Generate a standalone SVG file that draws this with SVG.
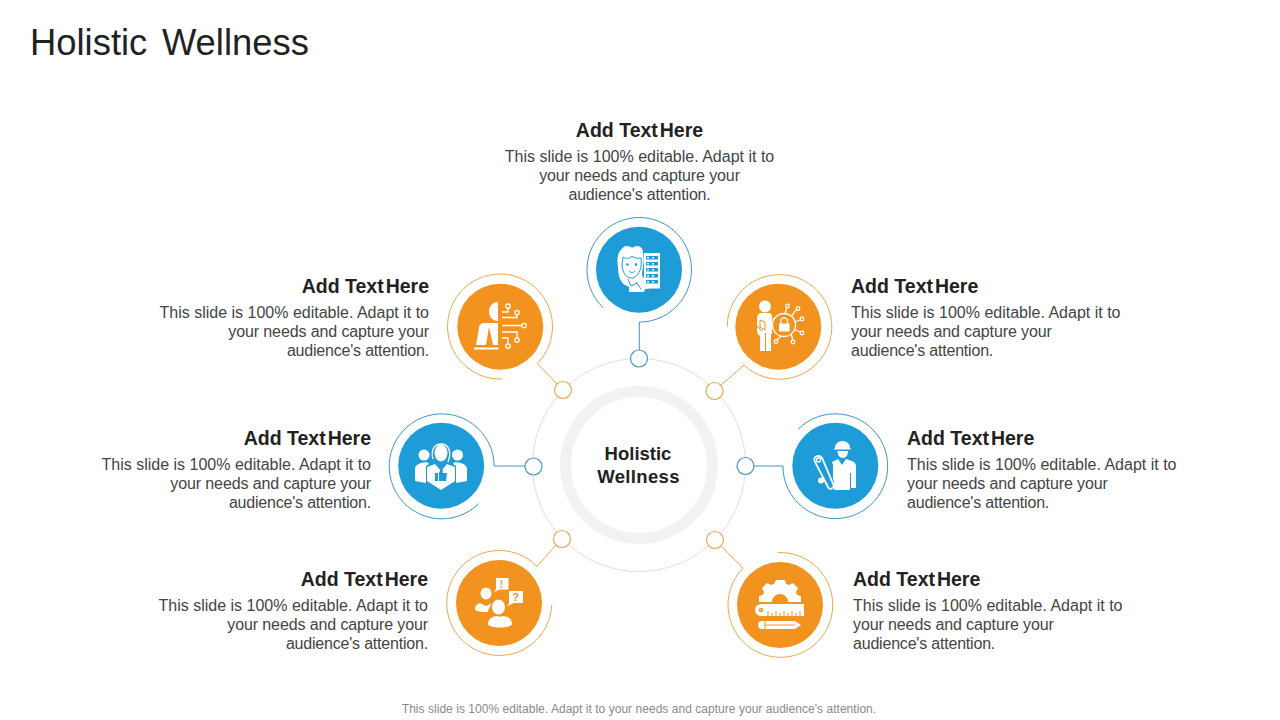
<svg xmlns="http://www.w3.org/2000/svg" width="1280" height="720" viewBox="0 0 1280 720">
<style>
text{font-family:"Liberation Sans",Arial,sans-serif}
.h{font-size:19.5px;font-weight:700;fill:#222}
.b{font-size:16px;fill:#444}
.l2{letter-spacing:-.11px}
.l3{letter-spacing:-.2px}
.m{text-anchor:middle}
.e{text-anchor:end}
.bl{fill:#1e9cd7}.or{fill:#f3931f}
.lb{fill:none;stroke:#3d97c8;stroke-width:1}
.lo{fill:none;stroke:#e9a94f;stroke-width:1}
.db{fill:#fff;stroke:#3d97c8;stroke-width:1.200}
.do{fill:#fff;stroke:#e9a94f;stroke-width:1.200}
.w{fill:#fff}
.ws{fill:none;stroke:#fff;stroke-width:1.300}
.cb{fill:#1e9cd7}.co{fill:#f3931f}
.sb{fill:none;stroke:#1e9cd7;stroke-width:1}
.so{fill:none;stroke:#f3931f;stroke-width:1}
</style>
<rect width="1280" height="720" fill="#fff"/>
<text x="30" y="55" font-size="36.400" fill="#222" word-spacing="4.500">Holistic Wellness</text>
<g id="hub">
<circle cx="639" cy="465" r="106.500" fill="none" stroke="#e0e0e0" stroke-width="1"/>
<circle cx="639" cy="465" r="73.500" fill="none" stroke="#f2f2f2" stroke-width="11"/>
<text x="638" y="460" font-size="18.500" font-weight="700" fill="#222" class="m">Holistic</text>
<text x="638.500" y="483" font-size="18.500" font-weight="700" fill="#222" class="m" letter-spacing=".35">Wellness</text>
</g>
<g id="connectors">
<path class="lb" d="M603.200 307.700A52.300 52.300 0 1 1 639.300 322.100V350"/>
<path class="lo" d="M727.200 326.800A52.300 52.300 0 1 1 743.900 365.200L720.600 385.400"/>
<path class="lo" d="M502 379A52.500 52.500 0 1 1 537.300 363.500L557 384"/>
<path class="lb" d="M478.600 503.700A52.500 52.500 0 1 1 494.200 466H525"/>
<path class="lb" d="M798.100 429.300A52.400 52.400 0 1 1 782.900 466H754"/>
<path class="lo" d="M778 552.600A52.400 52.400 0 1 1 743.200 568L721 546"/>
<path class="lo" d="M551.700 605A52.500 52.500 0 1 1 537 566.500L556 545"/>
<circle class="db" cx="639" cy="358.500" r="8.500"/>
<circle class="do" cx="714.500" cy="391" r="8.500"/>
<circle class="do" cx="563" cy="390" r="8.500"/>
<circle class="db" cx="533.500" cy="466.500" r="8.500"/>
<circle class="db" cx="745.500" cy="466" r="8.500"/>
<circle class="do" cx="715" cy="540" r="8.500"/>
<circle class="do" cx="562" cy="539" r="8.500"/>
</g>
<g id="node-top">
<circle class="bl" cx="639" cy="269.700" r="43"/>
<path class="w" d="M627 246c3 0 4 1 5 2 1-1 3-2 5-2 4 0 6 3 6 7 1 4 1 9 0 13l-1 9 4 8 5 2v3l-6 1-1 3h-15v-5l-4-2c-5-3-7-10-7-18-1-6-1-12 2-16 2-3 4-5 7-5z"/>
<path class="sb" d="M623 257c3 2 6 2 9-1 2 2 6 3 9 2 1 9-1 17-8 20-7 1-11-6-11-14zM628 279l3 7 6-3M636 282l5 7"/>
<circle class="cb" cx="627.500" cy="264.500" r="1.300"/><circle class="cb" cx="636" cy="264.500" r="1.300"/>
<path class="sb" d="M629 271c2 2 4 2 6 0"/>
<rect class="w" x="644" y="253" width="16" height="35.500"/>
<g class="cb"><rect x="646" y="256" width="12" height="3.500"/><rect x="646" y="262" width="12" height="3.500"/><rect x="646" y="268" width="12" height="3.500"/><rect x="646" y="274" width="12" height="3.500"/><rect x="646" y="280" width="12" height="3.500"/></g>
<path class="w" d="M647 257h2v1.500h-2zM652 257h2v1.500h-2zM647 263h2v1.500h-2zM652 263h2v1.500h-2zM647 269h2v1.500h-2zM652 269h2v1.500h-2zM647 275h2v1.500h-2zM652 275h2v1.500h-2zM647 281h2v1.500h-2zM652 281h2v1.500h-2z"/>
<text x="639.500" y="137" class="h m">Add Text <tspan dx="-3.500">Here</tspan></text>
<text x="639.500" y="162" class="b m">This slide is 100% editable. Adapt it to</text>
<text x="639.500" y="181" class="b m l2">your needs and capture your</text>
<text x="639.500" y="200" class="b m l3">audience's attention.</text>
</g>
<g id="node-upper-right">
<circle class="or" cx="778.300" cy="326.700" r="43"/>
<circle class="w" cx="765" cy="306.500" r="6"/>
<path class="w" d="M760 313h10c2 1 2 3 2 5v16h-1v17h-5v-18h-1v18h-5v-15c-2-1-3-3-3-5v-13c0-2 1-4 3-5z"/>
<path class="so" d="M760 320l5 2v8l-5-3zM757 326l5 5"/>
<circle class="ws" cx="784" cy="325" r="11.500"/>
<rect class="w" x="779" y="323.500" width="10.500" height="8"/>
<path class="ws" d="M781 323.500v-2.500a3.200 3.200 0 0 1 6.400 0v2.500M785 313.500l2-6M792 316l3-5 2-1M795 322l5-2M795 330l5 2M791 334l2 6M781 336l-4 4M774 320l-1-2"/>
<g class="ws"><circle cx="787.500" cy="306" r="1.800"/><circle cx="798" cy="308.500" r="1.800"/><circle cx="802" cy="319" r="1.800"/><circle cx="802" cy="333" r="1.800"/><circle cx="793" cy="342" r="1.800"/><circle cx="776" cy="341.500" r="1.800"/></g>
<text x="851" y="293" class="h">Add Text <tspan dx="-3.500">Here</tspan></text>
<text x="851" y="318" class="b">This slide is 100% editable. Adapt it to</text>
<text x="851" y="337" class="b l2">your needs and capture your</text>
<text x="851" y="356" class="b l3">audience's attention.</text>
</g>
<g id="node-upper-left">
<circle class="or" cx="500.300" cy="326.700" r="43"/>
<path class="w" d="M498 302v19c-5 0-9-4-9-9.500S493 302 498 302zM484 323h14v22h-5l-4-18-3 18h-10l3-17c0-3 2-5 5-5z"/>
<rect class="w" x="474" y="347.500" width="24.500" height="2"/>
<path class="ws" d="M502 312h6v-4M502 317.500h15v-3M502 325.500h20M502 332h15v6M502 338h6v5"/>
<g class="ws"><circle cx="508" cy="306" r="2.200"/><circle cx="517" cy="312.500" r="2.200"/><circle cx="524" cy="325.500" r="2.200"/><circle cx="517" cy="340" r="2.200"/><circle cx="508" cy="346" r="2.200"/></g>
<text x="429" y="293" class="h e">Add Text <tspan dx="-3.500">Here</tspan></text>
<text x="429" y="318" class="b e">This slide is 100% editable. Adapt it to</text>
<text x="429" y="337" class="b e l2">your needs and capture your</text>
<text x="429" y="356" class="b e l3">audience's attention.</text>
</g>
<g id="node-left">
<circle class="bl" cx="441.200" cy="465.700" r="43"/>
<circle class="w" cx="424" cy="455" r="5.500"/><circle class="w" cx="457.500" cy="455" r="5.500"/>
<path class="w" d="M415 481v-12c0-3 3-5 6-6l6-1 2 2-3 2v17zM467 481v-12c0-3-3-5-6-6l-6-1-2 2 3 2v17z"/>
<path class="ws" stroke-width="1.500" d="M433 459c-2-7 0-15 8-15s10 8 8 15l-1 3"/>
<ellipse class="w" cx="441" cy="453" rx="6.500" ry="8.500"/>
<path class="w" d="M427 467l8-3 6 7 6-7 8 3v14l-14 9-14-9z"/>
<path class="cb" d="M435 473h3v8h-3zM439 473l2-5c2 0 2 2 1.500 5h4.500l-1 8h-7z"/>
<text x="371" y="445" class="h e">Add Text <tspan dx="-3.500">Here</tspan></text>
<text x="371" y="470" class="b e">This slide is 100% editable. Adapt it to</text>
<text x="371" y="489" class="b e l2">your needs and capture your</text>
<text x="371" y="508" class="b e l3">audience's attention.</text>
</g>
<g id="node-right">
<circle class="bl" cx="835.300" cy="465.800" r="43"/>
<path class="w" d="M835 448c0-4 3-7 7.500-7s7.500 3 7.500 7l1.500 1.500h-18z"/>
<path class="w" d="M837.500 451h10.500c0 4-2 7-5.200 7s-5.300-3-5.300-7z"/>
<path class="w" d="M838 459l4 6 4-6 6 2c3 1 4 3 4 6v21h-5v-15h-1v17h-16v-8l-1-3v-14l-1-3z"/>
<path fill="none" stroke="#fff" stroke-width="1.800" d="M814.500 461c-1-3 1-5 4-5 2 0 3 1 4 3l11 26c1 3-3 5-5 3z"/>
<circle class="ws" cx="818.500" cy="460" r="2"/>
<circle class="w" cx="821" cy="480.500" r="3"/>
<text x="907" y="445" class="h">Add Text <tspan dx="-3.500">Here</tspan></text>
<text x="907" y="470" class="b">This slide is 100% editable. Adapt it to</text>
<text x="907" y="489" class="b l2">your needs and capture your</text>
<text x="907" y="508" class="b l3">audience's attention.</text>
</g>
<g id="node-lower-right">
<circle class="or" cx="780" cy="605" r="43"/>
<path class="w" d="M776 580h9l1 4 3 1 4-2 5 5-2 4 1 3 4 1v6h-13a8 8 0 0 0-16 0h-13v-6l4-1 1-3-2-4 5-5 4 2 3-1z"/>
<path class="w" d="M761 604h43v12h-43a6 6 0 0 1 0-12z"/>
<circle class="co" cx="761" cy="610" r="2.200"/><circle class="w" cx="761" cy="610" r=".8"/>
<path class="so" d="M768 611v5M772 613v3M776 611v5M780 613v3M784 611v5M788 613v3M792 611v5M796 613v3M800 611v5"/>
<path class="w" d="M762 621h33l6 4-6 4h-33a4 4 0 0 1 0-8z"/>
<path class="so" d="M765 621v8M765 625h30"/>
<text x="853" y="586" class="h">Add Text <tspan dx="-3.500">Here</tspan></text>
<text x="853" y="611" class="b">This slide is 100% editable. Adapt it to</text>
<text x="853" y="630" class="b l2">your needs and capture your</text>
<text x="853" y="649" class="b l3">audience's attention.</text>
</g>
<g id="node-lower-left">
<circle class="or" cx="499" cy="603" r="43"/>
<path class="w" d="M496 578h12.500v11.500h-9l-6 3 2.500-3.500z"/>
<path class="w" d="M509 591h14v12h-9l-7 3 2-3z"/>
<text x="501.500" y="588" font-size="10" font-weight="700" fill="#f3931f" class="m">!</text>
<text x="515.500" y="601" font-size="11" font-weight="700" fill="#f3931f" class="m">?</text>
<ellipse class="w" cx="486" cy="593.500" rx="5.500" ry="6"/>
<path class="w" d="M475 610c0-4 2-6 5-7l6 3 6-3 1 1c-3 2-5 5-5 8-5 0-9 0-13-2z"/>
<ellipse cx="498.500" cy="607" rx="8" ry="8.500" fill="#f3931f"/>
<ellipse class="w" cx="498.500" cy="607" rx="6.500" ry="7.500"/>
<path class="w" d="M488 624c0-5 4-8 10-8l2 1 2-1c6 0 10 3 10 8 0 2-6 3.500-12 3.500s-12-1.500-12-3.500z"/>
<text x="428" y="586" class="h e">Add Text <tspan dx="-3.500">Here</tspan></text>
<text x="428" y="611" class="b e">This slide is 100% editable. Adapt it to</text>
<text x="428" y="630" class="b e l2">your needs and capture your</text>
<text x="428" y="649" class="b e l3">audience's attention.</text>
</g>
<text x="639" y="713" font-size="12" fill="#8a8a8a" class="m" letter-spacing=".035">This slide is 100% editable. Adapt it to your needs and capture your audience's attention.</text>
</svg>
